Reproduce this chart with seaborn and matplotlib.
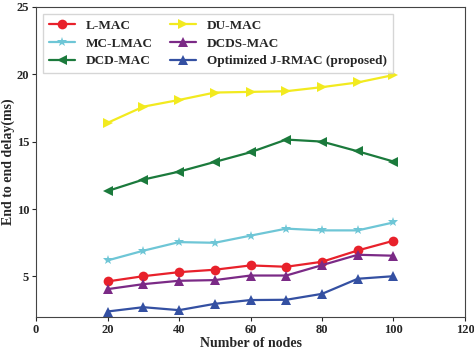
import matplotlib
matplotlib.use("Agg")
import matplotlib.pyplot as plt
import seaborn as sns
import pandas as pd

nodes = [20, 30, 40, 50, 60, 70, 80, 90, 100]
l_mac = [4.63, 5.02, 5.32, 5.50, 5.82, 5.72, 6.09, 6.93, 7.65]
du_mac = [16.4, 17.6, 18.1, 18.65, 18.7, 18.75, 19.05, 19.4, 19.95]
mc_lmac = [6.19, 6.91, 7.55, 7.50, 8.03, 8.55, 8.42, 8.42, 9.01]
dcds_mac = [4.06, 4.43, 4.68, 4.73, 5.07, 5.07, 5.84, 6.61, 6.54]
dcd_mac = [11.34, 12.19, 12.78, 13.50, 14.22, 15.16, 15.01, 14.29, 13.53]
jrmac = [2.40, 2.72, 2.50, 2.97, 3.25, 3.27, 3.71, 4.83, 5.02]

names = ["L-MAC", "MC-LMAC", "DCD-MAC", "DU-MAC", "DCDS-MAC", "Optimized J-RMAC (proposed)"]
series = [l_mac, mc_lmac, dcd_mac, du_mac, dcds_mac, jrmac]
colors = ["#e8212b", "#6ec6d6", "#1b7a3c", "#f2ea1f", "#7b2a86", "#3450a2"]
markers = ["o", "*", "<", ">", "^", "^"]

sns.set_style("ticks")
plt.rcParams['font.family'] = ['Liberation Serif', 'DejaVu Serif']
plt.rcParams['font.weight'] = 'bold'

rows = []
for n, s in zip(names, series):
    for x, y in zip(nodes, s):
        rows.append({"nodes": x, "delay": y, "method": n})
df = pd.DataFrame(rows)

fig = plt.figure(figsize=(4.74, 3.49), dpi=100)
ax = fig.add_axes([0.076, 0.092, 0.905, 0.888])
sns.lineplot(data=df, x="nodes", y="delay", hue="method", style="method",
             hue_order=names, style_order=names,
             palette=dict(zip(names, colors)), markers=dict(zip(names, markers)),
             dashes=False, linewidth=1.6, markersize=7, markeredgewidth=0, ax=ax)

ax.set_xlim(0, 120)
ax.set_ylim(2, 25)
ax.set_xticks([0, 20, 40, 60, 80, 100, 120])
ax.set_yticks([5, 10, 15, 20, 25])
ax.tick_params(labelsize=9, length=3, pad=2)
for lbl in ax.get_xticklabels() + ax.get_yticklabels():
    lbl.set_fontweight('bold')
ax.set_xlabel("Number of nodes", fontsize=10, fontweight='bold', labelpad=1)
ax.set_ylabel("End to end delay(ms)", fontsize=10, fontweight='bold', labelpad=1)
for sp in ax.spines.values():
    sp.set_visible(True)
    sp.set_color('#444444')

leg = ax.legend(ncol=2, loc='upper left', prop={'weight': 'bold', 'size': 9.5},
                frameon=True, handlelength=2.0, columnspacing=1.3,
                labelspacing=0.42, borderpad=0.45, fancybox=False)
leg.get_frame().set_edgecolor('#cccccc')

fig.savefig("out.png", dpi=100)
